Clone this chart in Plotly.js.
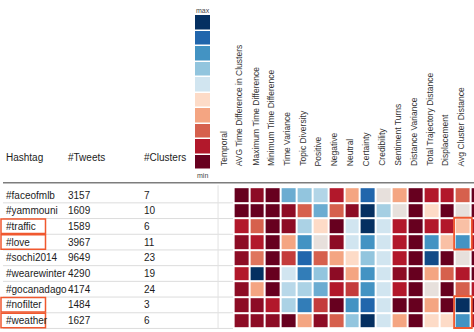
<!DOCTYPE html>
<html>
<head>
<meta charset="utf-8">
<script src="https://cdn.plot.ly/plotly-3.0.1.min.js"></script>
<style>html,body{margin:0;padding:0;background:#fff;}#chart{width:474px;height:332px;}</style>
</head>
<body>
<div id="chart"></div>
<script>
// ---- data ----
const hashtags = ['#faceofmlb', '#yammouni', '#traffic', '#love', '#sochi2014', '#wearewinter', '#gocanadago', '#nofilter', '#weather'];
const tweets = [3157, 1609, 1589, 3967, 9649, 4290, 4174, 1484, 1627];
const clusters = [7, 10, 6, 11, 23, 19, 24, 3, 6];
const features = ['Temporal', 'AVG Time Difference in Clusters', 'Maximum Time Difference', 'Minimum Time Difference',
  'Time Variance', 'Topic Diversity', 'Positive', 'Negative', 'Neutral', 'Certainty', 'Credibility',
  'Sentiment Turns', 'Distance Variance', 'Total Trajectory Distance', 'Displacement', 'Avg Cluster Distance', ''];
// level 0 = min (dark red) ... 9 = max (dark blue); Temporal column is empty
const levels = [
  [null, 0, 0.5, 0, 6.5, 6, 5.5, 1, 3, 8, 4.5, 3, 0, 1, 1, 2, 0],
  [null, 0, 0, 0, 0.5, 2, 6.5, 2, 0.5, 9, 5.7, 4.5, 0, 4, 0, 4.5, 0],
  [null, 1, 2, 0, 0.5, 5.6, 4, 0, 5, 9, 5, 1, 0, 1, 1, 3.5, 1],
  [null, 0.5, 1, 0, 3, 7, 4.5, 0.5, 5, 7, 5, 1, 0, 7, 3.5, 7, 1],
  [null, 0.5, 2.3, 0, 1.5, 8, 2, 3, 4, 6, 5, 1, 0, 8.5, 0, 4.5, 0],
  [null, 1, 9, 0, 5, 7.5, 6, 0.5, 3, 7, 5, 0.5, 0, 3, 2, 1, 0],
  [null, 0.5, 3, 0, 5.4, 5.6, 6.5, 1, 1.5, 7, 5, 1, 0, 4.5, 0, 2, 1],
  [null, 0.5, 0.5, 1, 5.6, 7.5, 1.5, 0, 7, 8, 5, 0, 0, 3, 0, 9, 0],
  [null, 0.5, 0.5, 0.5, 0, 3, 0.5, 2, 6, 9, 5, 3, 0, 4, 4, 7, 1]
];
const legendLevels = [0, 1, 2, 3, 4, 5, 6, 7, 8, 9];
const highlighted = ['#traffic', '#love', '#nofilter', '#weather'];
const highlightGroups = [[2, 3], [7, 8]]; // rows boxed in Avg Cluster Distance column
const highlightFeature = 'Avg Cluster Distance';

// ---- styling ----
const W = 474, H = 332;
const palette = ['#67001f', '#b2182b', '#d6604d', '#f4a582', '#fddbc7', '#d1e5f0', '#92c5de', '#4393c3', '#2166ac', '#053061'];
const scale = palette.map((c, i) => [i / (palette.length - 1), c]);
const px = v => v / W;
const py = v => (H - v) / H;
const FONT = 'Liberation Sans, Arial, Helvetica, sans-serif';
const orange = '#f0582f';

const colIdx = features.map((_, i) => i);
const rowIdx = hashtags.map((_, i) => i);

const traces = [
  {
    type: 'heatmap', x: colIdx, y: rowIdx, z: levels,
    zmin: 0, zmax: 9, colorscale: scale, showscale: false,
    xgap: 2, ygap: 2, hoverongaps: false, xaxis: 'x', yaxis: 'y'
  },
  {
    type: 'heatmap', x: [0], y: legendLevels, z: legendLevels.map(v => [v]),
    zmin: 0, zmax: 9, colorscale: scale, showscale: false,
    ygap: 1.5, xaxis: 'x3', yaxis: 'y3'
  }
];

const annotations = [];
const tcol = '#1c1c1c';
const colX = {hashtag: 3.5, tweets: 66, clusters: 141.5};
[['Hashtag', colX.hashtag], ['#Tweets', colX.tweets], ['#Clusters', colX.clusters]].forEach(([t, x]) => {
  annotations.push({text: t, xref: 'paper', yref: 'paper', x: px(x), y: py(157), xanchor: 'left', yanchor: 'middle',
    showarrow: false, font: {family: FONT, size: 10, color: tcol}});
});
hashtags.forEach((h, i) => {
  annotations.push({text: h, xref: 'paper', yref: 'y', x: px(colX.hashtag), y: i, xanchor: 'left', yanchor: 'middle', showarrow: false, font: {family: FONT, size: 10, color: tcol}});
  annotations.push({text: String(tweets[i]), xref: 'paper', yref: 'y', x: px(colX.tweets), y: i, xanchor: 'left', yanchor: 'middle', showarrow: false, font: {family: FONT, size: 10, color: tcol}});
  annotations.push({text: String(clusters[i]), xref: 'paper', yref: 'y', x: px(colX.clusters), y: i, xanchor: 'left', yanchor: 'middle', showarrow: false, font: {family: FONT, size: 10, color: tcol}});
});
features.forEach((f, j) => {
  if (!f) return;
  annotations.push({text: f, xref: 'x', yref: 'paper', x: j, y: py(168), xanchor: 'center', yanchor: 'bottom',
    textangle: -90, xshift: -2, showarrow: false, font: {family: FONT, size: 8.5, color: '#333'}});
});
annotations.push({text: 'max', xref: 'paper', yref: 'paper', x: px(202.5), y: py(15.5), xanchor: 'center', yanchor: 'bottom', showarrow: false, font: {family: FONT, size: 7, color: '#444'}});
annotations.push({text: 'min', xref: 'paper', yref: 'paper', x: px(202.5), y: py(170), xanchor: 'center', yanchor: 'top', showarrow: false, font: {family: FONT, size: 7, color: '#444'}});

const shapes = [];
// header rule
shapes.push({type: 'line', xref: 'paper', yref: 'paper', x0: px(3), x1: 1, y0: py(182.7), y1: py(182.7), line: {color: '#7d7d7d', width: 1.5}});
// row separators
hashtags.forEach((h, i) => {
  shapes.push({type: 'line', xref: 'paper', yref: 'y', x0: px(3), x1: px(233), y0: i + 0.5, y1: i + 0.5, line: {color: '#dcdcdc', width: 1}});
});
// left edge of the Temporal column
shapes.push({type: 'line', xref: 'x', yref: 'y', x0: -0.47, x1: -0.47, y0: -0.62, y1: hashtags.length - 0.5, line: {color: '#e2e2e2', width: 1}});
// highlighted hashtags
highlighted.forEach(h => {
  const i = hashtags.indexOf(h);
  shapes.push({type: 'rect', xref: 'paper', yref: 'y', x0: px(1), x1: px(45.5), y0: i - 0.47, y1: i + 0.45, line: {color: orange, width: 1.5}});
});
// highlighted cells
const fj = features.indexOf(highlightFeature);
highlightGroups.forEach(g => {
  shapes.push({type: 'rect', xref: 'x', yref: 'y', x0: fj - 0.56, x1: fj + 0.56, y0: g[0] - 0.55, y1: g[g.length - 1] + 0.47, line: {color: orange, width: 1.8}});
});

const pitchX = 15.83;
const x0 = -225.5 / pitchX;
const layout = {
  width: W, height: H, margin: {l: 0, r: 0, t: 0, b: 0}, paper_bgcolor: '#fff', plot_bgcolor: 'rgba(0,0,0,0)',
  showlegend: false,
  xaxis: {domain: [0, 1], range: [x0, x0 + W / pitchX], visible: false, fixedrange: true},
  yaxis: {domain: [0, (H - 183) / H], range: [(H - 195) / 15.7, -12 / 15.7], visible: false, fixedrange: true},
  xaxis3: {domain: [px(195), px(210)], anchor: 'y3', range: [-0.5, 0.5], visible: false},
  yaxis3: {domain: [py(170), py(15)], anchor: 'x3', range: [-0.5, 9.5], visible: false},
  annotations: annotations, shapes: shapes
};
Plotly.newPlot('chart', traces, layout, {staticPlot: true, displayModeBar: false});
</script>
</body>
</html>
